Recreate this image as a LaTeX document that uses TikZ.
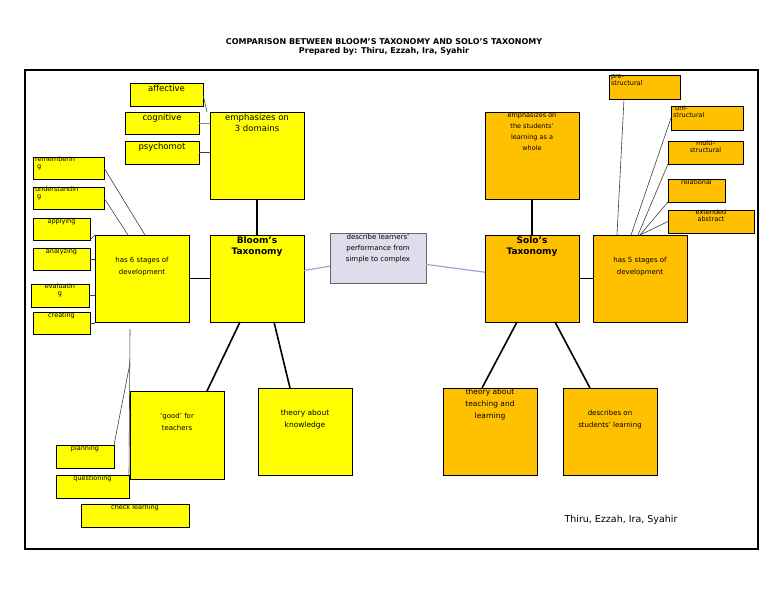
\documentclass[tikz,border=0pt]{standalone}
\usepackage{fontspec}
\setmainfont{DejaVu Sans}
\usepackage{tikz}
\definecolor{bloomy}{HTML}{FFFF00}
\definecolor{soloy}{HTML}{FFC000}
\definecolor{lav}{HTML}{E0DCEB}
\definecolor{lavline}{HTML}{A9A0CF}
\newcommand{\bx}[3]{\parbox[t][#2pt][t]{#1pt}{\centering #3}}
\tikzset{
  box/.style={draw=black, thick, anchor=north west, inner sep=0pt, outer sep=0pt, align=center},
  bl/.style={box, fill=bloomy},
  so/.style={box, fill=soloy},
  link/.style={line width=1.6pt},
  thin/.style={draw=black!75, line width=0.6pt}
}
\begin{document}
\begin{tikzpicture}[x=1pt,y=-1pt]
        \useasboundingbox (0,0) rectangle (768,594);
        \node[font=\bfseries\fontsize{8}{9}\selectfont, align=center] (title) at (384,47)
          {COMPARISON BETWEEN BLOOM'S TAXONOMY AND SOLO'S TAXONOMY\\Prepared by: Thiru, Ezzah, Ira, Syahir};
        \draw[line width=2pt] (25,70) rectangle (758,549);
        % Bloom side
        \node[bl] (bloom) at (210,235) {\bx{94}{87}{\vspace{2pt}\bfseries\fontsize{9}{11}\selectfont Bloom's\\Taxonomy}};
        \node[bl] (emph) at (210,112) {\bx{94}{87}{\vspace{2pt}\fontsize{8.5}{11}\selectfont emphasizes on\\3 domains}};
        \node[bl] (affect) at (130,83) {\bx{73}{23}{\vspace{2pt}\fontsize{8.5}{10}\selectfont affective}};
        \node[bl] (cogn) at (125,112) {\bx{74}{22}{\vspace{2pt}\fontsize{8.5}{10}\selectfont cognitive}};
        \node[bl] (psych) at (125,141) {\bx{74}{23}{\vspace{2pt}\fontsize{8.5}{10}\selectfont psychomot}};
        \node[bl] (stages) at (95,235) {\bx{94}{87}{\vspace{22pt}\fontsize{7}{12}\selectfont has 6 stages of\\development}};
        \node[bl] (remem) at (33,157) {\bx{71}{22}{\fontsize{6.5}{10}\selectfont\raggedright\ rememberin\\[-3pt]\ \ g}};
        \node[bl] (under) at (33,187) {\bx{71}{22}{\fontsize{6.5}{10}\selectfont\raggedright\ understandin\\[-3pt]\ \ g}};
        \node[bl] (apply) at (33,218) {\bx{57}{22}{\vspace{1pt}\fontsize{6.5}{10}\selectfont applying}};
        \node[bl] (analy) at (33,248) {\bx{57}{22}{\vspace{1pt}\fontsize{6.5}{10}\selectfont analyzing}};
        \node[bl] (evalu) at (31,284) {\bx{58}{23}{\fontsize{6.5}{10}\selectfont evaluatin\\[-3pt]g}};
        \node[bl] (creat) at (33,312) {\bx{57}{22}{\vspace{1pt}\fontsize{6.5}{10}\selectfont creating}};
        \node[bl] (good) at (130,391) {\bx{94}{88}{\vspace{22pt}\fontsize{7}{12}\selectfont `good' for\\teachers}};
        \node[bl] (plan) at (56,445) {\bx{58}{23}{\vspace{1pt}\fontsize{6.5}{10}\selectfont planning}};
        \node[bl] (quest) at (56,475) {\bx{73}{23}{\vspace{1pt}\fontsize{6.5}{10}\selectfont questioning}};
        \node[bl] (check) at (81,504) {\bx{108}{23}{\vspace{1pt}\fontsize{6.5}{10}\selectfont check learning}};
        \node[bl] (know) at (258,388) {\bx{94}{87}{\vspace{22pt}\fontsize{7.5}{12}\selectfont theory about\\knowledge}};
        % centre
        \node[box, fill=lav, draw=black!60] (descr) at (330,233) {\bx{96}{50}{\vspace{1pt}\fontsize{7}{11}\selectfont describe learners'\\performance from\\simple to complex}};
        % Solo side
        \node[so] (solo) at (485,235) {\bx{94}{87}{\vspace{2pt}\bfseries\fontsize{9}{11}\selectfont Solo's\\Taxonomy}};
        \node[so] (semph) at (485,112) {\bx{94}{87}{\vspace{1pt}\fontsize{6.5}{11}\selectfont emphasizes on\\the students'\\learning as a\\whole}};
        \node[so] (sstages) at (593,235) {\bx{94}{87}{\vspace{22pt}\fontsize{7}{12}\selectfont has 5 stages of\\development}};
        \node[so] (pre) at (609,75) {\bx{71}{24}{\fontsize{6.5}{10}\selectfont\raggedright\ pre-\\[-3pt]\ structural}};
        \node[so] (uni) at (671,106) {\bx{72}{24}{\fontsize{6.5}{10}\selectfont\raggedright\ \ uni-\\[-3pt]\ structural}};
        \node[so] (multi) at (668,141) {\bx{75}{23}{\fontsize{6.5}{10}\selectfont multi-\\[-3pt]structural}};
        \node[so] (relat) at (668,179) {\bx{57}{23}{\vspace{1pt}\fontsize{6.5}{10}\selectfont relational}};
        \node[so] (ext) at (668,210) {\bx{86}{23}{\fontsize{6.5}{10}\selectfont extended\\[-3pt]abstract}};
        \node[so] (teach) at (443,388) {\bx{94}{87}{\vspace{1pt}\fontsize{7.5}{12}\selectfont theory about\\teaching and\\learning}};
        \node[so] (sdesc) at (563,388) {\bx{94}{87}{\vspace{22pt}\fontsize{7}{12}\selectfont describes on\\students' learning}};
        \node[font=\fontsize{9.5}{11}\selectfont] (names) at (621,520) {Thiru, Ezzah, Ira, Syahir};
        % connectors
        \draw[link] (bloom) -- (emph);
        \draw[link] (bloom) -- (stages);
        \draw[link] ([xshift=-17pt]bloom.south) -- ([xshift=30pt]good.north);
        \draw[link] ([xshift=-30pt]bloom.south east) -- ([xshift=-15pt]know.north);
        \draw[link] (solo) -- (semph);
        \draw[link] (solo) -- (sstages);
        \draw[link] ([xshift=-15pt]solo.south) -- ([xshift=-8pt]teach.north);
        \draw[link] ([xshift=-24pt]solo.south east) -- ([xshift=-20pt]sdesc.north);
        \draw[lavline, line width=1.2pt] (bloom) -- (descr);
        \draw[lavline, line width=1.2pt] (descr) -- (solo);
        \draw[thin] (affect.east) -- ([xshift=-3pt]emph.north west);
        \draw[thin, black!45] (cogn) -- (cogn.east -| emph.west);
        \draw[thin] (psych) -- (psych.east -| emph.west);
        \draw[thin] (remem.east) -- ([xshift=50pt]stages.north west);
        \draw[thin] (under.east) -- ([xshift=33pt]stages.north west);
        \draw[thin] (apply.south east) -- (stages.north west);
        \draw[thin] (analy) -- (analy.east -| stages.west);
        \draw[thin] (evalu) -- (evalu.east -| stages.west);
        \draw[thin] (creat) -- (creat.east -| stages.west);
        \draw[thin] (plan.north east) -- ([yshift=28pt]good.north west);
        \draw[thin] (quest.north east) -- ([yshift=62pt]good.north west);
        \draw[thin] (check) -- (check.north -| good.south) ;
        \draw[thin] ([xshift=15pt]pre.south west) -- ([xshift=24pt]sstages.north west);
        \draw[thin] (uni.west) -- ([xshift=38pt]sstages.north west);
        \draw[thin] (multi.south west) -- ([xshift=45pt]sstages.north west);
        \draw[thin] (relat.south west) -- ([xshift=47pt]sstages.north west);
        \draw[thin] (ext.west) -- ([xshift=47pt]sstages.north west);
\end{tikzpicture}
\end{document}
